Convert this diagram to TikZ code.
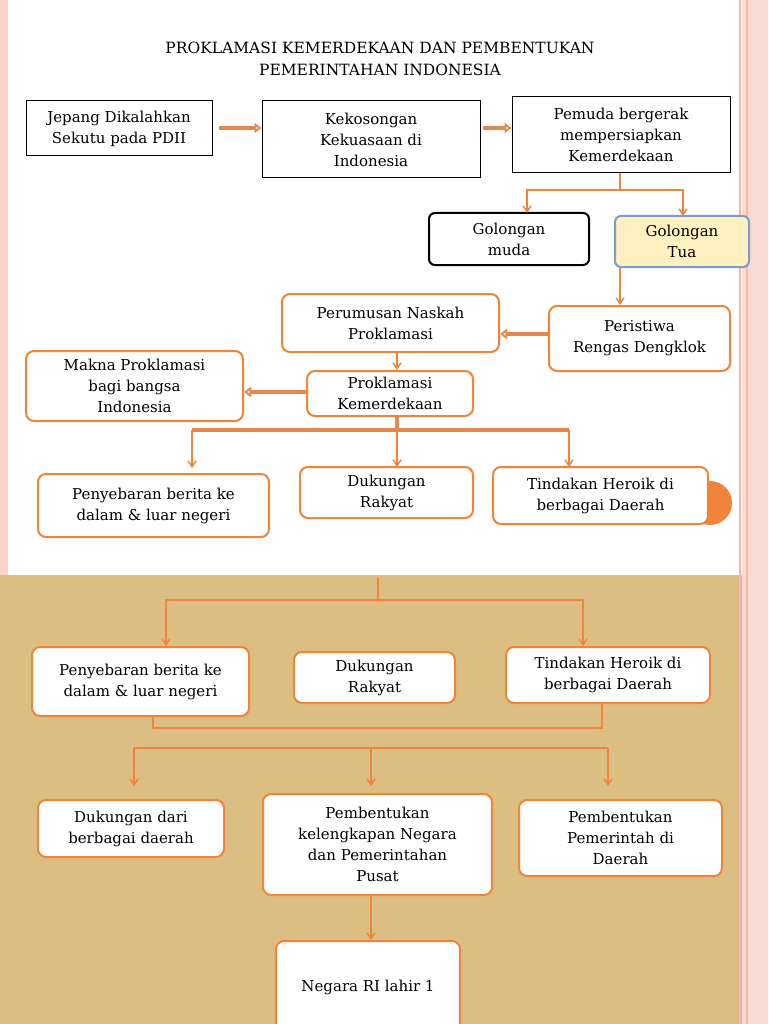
\documentclass[tikz,border=0pt]{standalone}
\usepackage{fontspec}
\setmainfont{DejaVu Serif}
\usetikzlibrary{arrows.meta,positioning}
\definecolor{boxorange}{HTML}{F0843A}
\definecolor{arrorange}{HTML}{E5884E}
\definecolor{pinkline}{HTML}{F6B7A6}
\definecolor{papyrus}{HTML}{DDBE82}
\definecolor{tuafill}{HTML}{FFF0C0}
\definecolor{tuaborder}{HTML}{7D9CCB}
\tikzset{
  every node/.style={font=\fontsize{15}{21}\selectfont, align=center},
  plainbox/.style={rectangle, draw=black, line width=1pt, fill=white, inner sep=2pt},
  roundbox/.style={rectangle, rounded corners=8pt, draw=boxorange, line width=2pt, fill=white, inner sep=2pt},
  bigarrow/.style={draw=arrorange, line width=4pt, -{Triangle[open,length=7pt,width=10pt]}},
  thinarrow/.style={draw=boxorange, line width=1.4pt, -{Straight Barb[length=6pt,width=8pt]}},
  thinline/.style={draw=boxorange, line width=1.4pt}
}
\begin{document}
\begin{tikzpicture}[x=1pt,y=-1pt]
\useasboundingbox (0,0) rectangle (768,1024);
% Background
\fill[white] (0,0) rectangle (768,1024);
\fill[pinkline!60] (0,0) rectangle (8,575);
\fill[papyrus] (0,575) rectangle (742,1024);
\fill[pinkline!50] (742,0) rectangle (768,1024);
\draw[pinkline, line width=1.5pt] (740,0) -- (740,1024);
\draw[pinkline, line width=1.5pt] (747,0) -- (747,1024);

% Title
\node[font=\fontsize{15.5}{22}\selectfont] (title) at (380,59) {PROKLAMASI KEMERDEKAAN DAN PEMBENTUKAN\\PEMERINTAHAN INDONESIA};

% Upper chain
\node[plainbox, minimum width=186pt, minimum height=55pt] (jepang) at (119,128.5) {Jepang Dikalahkan\\Sekutu pada PDII};
\node[plainbox, minimum width=218pt, minimum height=77pt] (kosong) at (371,139.5) {Kekosongan\\Kekuasaan di\\Indonesia};
\node[plainbox, minimum width=218pt, minimum height=76pt] (pemuda) at (621,135) {Pemuda bergerak\\mempersiapkan\\Kemerdekaan};
\draw[bigarrow] (jepang.east |- 0,128) ++(6,0) -- (kosong.west |- 0,128);
\draw[bigarrow] (kosong.east |- 0,128) ++(2,0) -- (pemuda.west |- 0,128);

\node[rectangle, rounded corners=6pt, draw=black, line width=2pt, fill=white,
  minimum width=160pt, minimum height=52pt] (muda) at (509,239) {Golongan\\muda};
\node[rectangle, rounded corners=6pt, draw=tuaborder, line width=2pt, fill=tuafill,
  minimum width=134pt, minimum height=51pt] (tua) at (682,241.5) {Golongan\\Tua};
\coordinate (split) at (620,190);
\draw[thinline] (pemuda.south -| split) -- (split);
\draw[thinarrow] (split) -- (527,190) -- (527,213);
\draw[thinarrow] (split) -- (683,190) -- (683,216);

\node[roundbox, minimum width=181pt, minimum height=65pt] (rengas) at (639.5,338.5) {Peristiwa\\Rengas Dengklok};
\node[roundbox, minimum width=217pt, minimum height=58pt] (rumus) at (390.5,323) {Perumusan Naskah\\Proklamasi};
\node[roundbox, minimum width=166pt, minimum height=45pt] (prokl) at (390,393.5) {Proklamasi\\Kemerdekaan};
\node[roundbox, minimum width=217pt, minimum height=70pt] (makna) at (134.5,386) {Makna Proklamasi\\bagi bangsa\\Indonesia};
\draw[thinarrow] (tua.south -| 620,0) -- (rengas.north -| 620,0);
\draw[bigarrow] (rengas.west |- 0,334) -- (rumus.east |- 0,334);
\draw[thinarrow] (rumus.south -| 397,0) -- (prokl.north -| 397,0);
\draw[bigarrow] (prokl.west |- 0,392) -- (makna.east |- 0,392);

% Upper consequences
\node[roundbox, minimum width=231pt, minimum height=63pt] (sebar) at (153.5,505.5) {Penyebaran berita ke\\dalam \& luar negeri};
\node[roundbox, minimum width=173pt, minimum height=51pt] (dukung) at (386.5,492.5) {Dukungan\\Rakyat};
\fill[boxorange] (710,503) circle (22pt);
\node[roundbox, minimum width=215pt, minimum height=57pt] (heroik) at (600.5,495.5) {Tindakan Heroik di\\berbagai Daerah};
\coordinate (fork) at (397,430);
\draw[arrorange, line width=4pt] (prokl.south -| fork) -- (fork);
\draw[arrorange, line width=4pt] (192,430) -- (569,430);
\draw[thinarrow] (192,430) -- (192,468);
\draw[thinarrow] (fork) -- (397,467);
\draw[thinarrow] (569,430) -- (569,467);

% Lower part
\coordinate (top2) at (378,600);
\draw[thinline] (378,578) -- (top2);
\node[roundbox, minimum width=217pt, minimum height=69pt] (sebar2) at (140.5,681.5) {Penyebaran berita ke\\dalam \& luar negeri};
\node[roundbox, minimum width=161pt, minimum height=51pt] (dukung2) at (374.5,677.5) {Dukungan\\Rakyat};
\node[roundbox, minimum width=204pt, minimum height=56pt] (heroik2) at (608,675) {Tindakan Heroik di\\berbagai Daerah};
\draw[thinarrow] (top2) -- (166,600) -- (sebar2.north -| 166,0);
\draw[thinarrow] (top2) -- (583,600) -- (heroik2.north -| 583,0);
\draw[thinline] (sebar2.south -| 153,0) -- (153,728) -- (602,728) -- (heroik2.south -| 602,0);

\node[roundbox, minimum width=186pt, minimum height=57pt] (daerah) at (131,828.5) {Dukungan dari\\berbagai daerah};
\node[roundbox, minimum width=229pt, minimum height=101pt] (pusat) at (377.5,844.5) {Pembentukan\\kelengkapan Negara\\dan Pemerintahan\\Pusat};
\node[roundbox, minimum width=203pt, minimum height=76pt] (pemda) at (620.5,838) {Pembentukan\\Pemerintah di\\Daerah};
\coordinate (top3) at (371,748);
\draw[thinline] (134,748) -- (608,748);
\draw[thinarrow] (134,748) -- (134,786);
\draw[thinarrow] (top3) -- (371,786);
\draw[thinarrow] (608,748) -- (608,786);

\node[roundbox, minimum width=184pt, minimum height=92pt] (lahir) at (368,987) {Negara RI lahir 1};
\draw[thinarrow] (pusat.south -| 371,0) -- (lahir.north -| 371,0);
\end{tikzpicture}
\end{document}
